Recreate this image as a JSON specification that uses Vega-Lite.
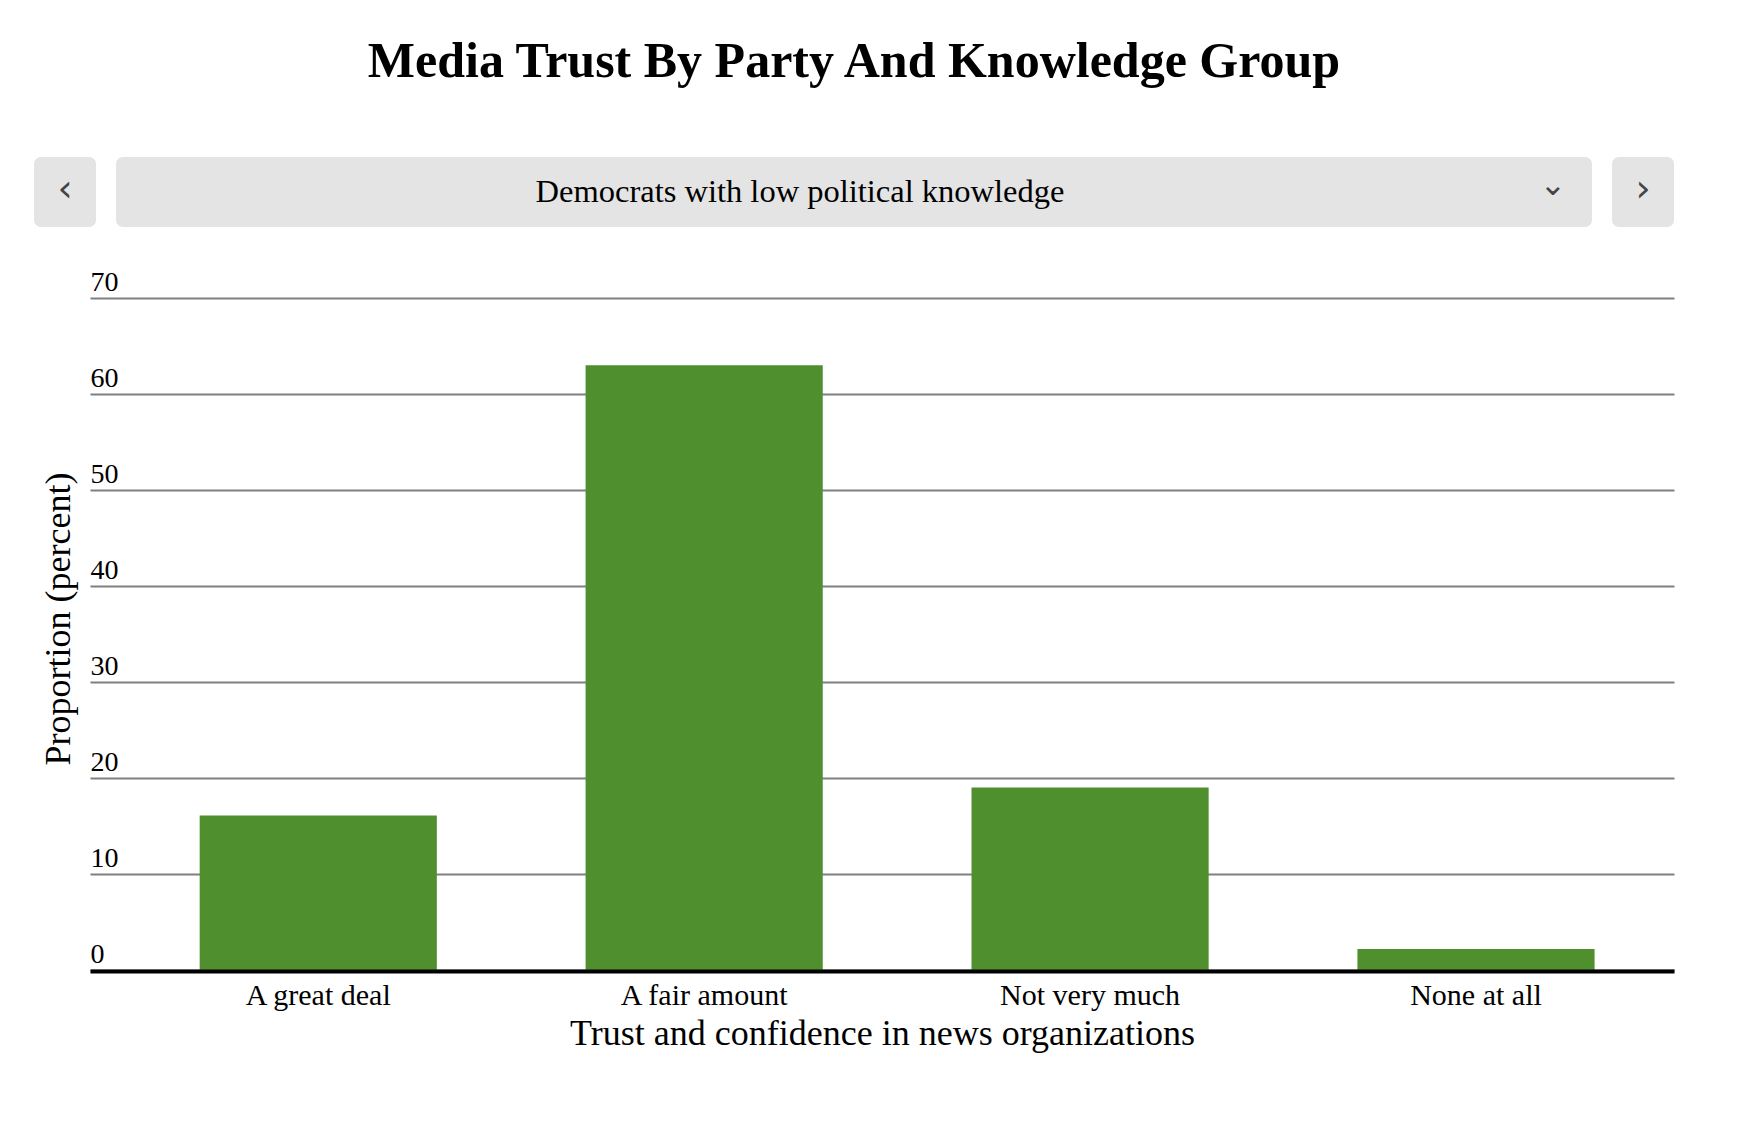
{
  "$schema": "https://vega.github.io/schema/vega-lite/v6.json",
  "padding": {"left": 34, "top": 37, "right": 88, "bottom": 10},
  "background": "white",
  "title": {
    "text": "Media Trust By Party And Knowledge Group",
    "font": "Liberation Serif",
    "fontSize": 50,
    "fontWeight": "bold",
    "color": "black",
    "anchor": "middle",
    "offset": 70
  },
  "datasets": {
    "trust": [
      {"group": "Democrats with low political knowledge", "trust": "A great deal", "percent": 16.1},
      {"group": "Democrats with low political knowledge", "trust": "A fair amount", "percent": 63.0},
      {"group": "Democrats with low political knowledge", "trust": "Not very much", "percent": 19.0},
      {"group": "Democrats with low political knowledge", "trust": "None at all", "percent": 2.2}
    ]
  },
  "spacing": 41,
  "vconcat": [
    {
      "spacing": 20,
      "hconcat": [
        {
          "width": 62, "height": 70,
          "view": {"fill": "#e4e4e4", "cornerRadius": 7, "stroke": null},
          "data": {"values": [{}]},
          "mark": {"type": "text", "text": "‹", "font": "DejaVu Sans", "fontSize": 38, "color": "#444444", "baseline": "middle", "align": "center", "dy": -2},
          "encoding": {}
        },
        {
          "width": 1476, "height": 70,
          "view": {"fill": "#e4e4e4", "cornerRadius": 7, "stroke": null},
          "data": {"name": "trust"},
          "transform": [{"aggregate": [], "groupby": ["group"]}],
          "layer": [
            {
              "mark": {"type": "text", "font": "Liberation Serif", "fontSize": 32.5, "color": "black", "baseline": "middle", "align": "center", "dx": -54},
              "encoding": {"text": {"field": "group"}}
            },
            {
              "mark": {"type": "text", "text": "⌄", "font": "DejaVu Sans", "fontSize": 32, "color": "#444444", "baseline": "middle", "align": "center", "dx": 699, "dy": -7},
              "encoding": {}
            }
          ]
        },
        {
          "width": 62, "height": 70,
          "view": {"fill": "#e4e4e4", "cornerRadius": 7, "stroke": null},
          "data": {"values": [{}]},
          "mark": {"type": "text", "text": "›", "font": "DejaVu Sans", "fontSize": 38, "color": "#444444", "baseline": "middle", "align": "center", "dy": -2},
          "encoding": {}
        }
      ]
    },
    {
      "spacing": 6,
      "hconcat": [
        {
          "width": 50, "height": 672,
          "data": {"values": [{}]},
          "mark": {"type": "text", "text": "Proportion (percent)", "angle": 270, "font": "Liberation Serif", "fontSize": 36, "color": "black", "baseline": "middle", "align": "center", "dx": 15},
          "encoding": {}
        },
        {
          "width": 1584,
          "height": 672,
          "data": {"name": "trust"},
          "mark": {"type": "bar", "color": "#4f8f2e"},
          "encoding": {
            "x": {
              "field": "trust",
              "type": "nominal",
              "sort": null,
              "scale": {"paddingInner": 0.3855, "paddingOuter": 0.245, "align": 0.58},
              "title": "Trust and confidence in news organizations",
              "axis": {
                "labelAngle": 0,
                "ticks": false,
                "tickSize": 0,
                "domainColor": "black",
                "domainWidth": 4,
                "offset": 1,
                "zindex": 1,
                "labelFont": "Liberation Serif",
                "labelFontSize": 30,
                "labelColor": "black",
                "labelPadding": 9,
                "titleFont": "Liberation Serif",
                "titleFontSize": 36,
                "titleFontWeight": "normal",
                "titleColor": "black",
                "titlePadding": 6
              }
            },
            "y": {
              "field": "percent",
              "type": "quantitative",
              "scale": {"domain": [0, 70], "nice": false},
              "title": null,
              "axis": {
                "values": [0, 10, 20, 30, 40, 50, 60, 70],
                "domain": false,
                "ticks": false,
                "tickSize": 0,
                "grid": true,
                "gridColor": "#808080",
                "gridWidth": 2,
                "gridOpacity": 1,
                "labelAlign": "left",
                "labelBaseline": "alphabetic",
                "labelPadding": 0,
                "labelOffset": -8,
                "labelFont": "Liberation Serif",
                "labelFontSize": 28,
                "labelColor": "black"
              }
            }
          }
        }
      ]
    }
  ],
  "config": {
    "view": {"stroke": null}
  }
}
